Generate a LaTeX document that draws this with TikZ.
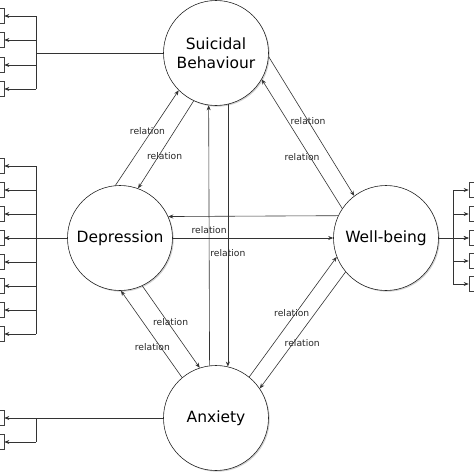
\documentclass[tikz,border=0pt]{standalone}
\usepackage{fontspec}
\setmainfont{DejaVu Sans}
\usetikzlibrary{arrows.meta, shadows}

\begin{document}
\begin{tikzpicture}[x=1pt,y=-1pt,->,>={Stealth[length=5pt,width=4pt]},line width=0.6pt,draw=black!80,
  state/.style={circle, draw=black!85, fill=white, minimum size=105pt, inner sep=0pt, align=center,
    font=\fontsize{15.5}{18.5}\selectfont,
    drop shadow={shadow xshift=1.2pt, shadow yshift=-1.2pt, fill=black!30, opacity=0.6}},
  rel/.style={font=\fontsize{9.2}{11}\selectfont, text=black!85},
  leaf/.style={-, draw=black!75, minimum width=12pt, minimum height=15pt, inner sep=0pt}]

  \useasboundingbox (0,0) rectangle (474,474);

  \node[state] (sui) at (216,53) {Suicidal\\Behaviour};
  \node[state] (dep) at (120,238) {Depression};
  \node[state] (wel) at (386,238) {Well-being};
  \node[state] (anx) at (216,418) {Anxiety};

  % relations between the four factors
  \draw (dep.95) -- node[rel, pos=0.57, xshift=-4pt]{relation} (sui.225);
  \draw (sui.245) -- node[rel, pos=0.63, xshift=6pt]{relation} (dep.70);
  \draw (anx.97.6) -- node[rel, pos=0.52]{relation} (sui.262.4);
  \draw (sui.283) -- node[rel, pos=0.567]{relation} (anx.77);
  \draw (wel.155.5) -- (dep.24.5);
  \draw (dep.east) -- (wel.west);
  \draw (sui.356) -- node[rel, pos=0.46]{relation} (wel.127);
  \draw (wel.146) -- node[rel, pos=0.4, xshift=-8pt]{relation} (sui.330);
  \draw (anx.130.4) -- node[rel, pos=0.354, xshift=-8pt]{relation} (dep.271);
  \draw (dep.295) -- node[rel, pos=0.44, xshift=3pt]{relation} (anx.108.4);
  \draw (anx.51.2) -- node[rel, pos=0.532, xshift=-4pt]{relation} (wel.201);
  \draw (wel.220.5) -- node[rel, pos=0.61, xshift=9pt]{relation} (anx.34);

  % items of suicidal behaviour
  \coordinate (bs) at (36,53);
  \foreach \i/\y in {1/16,2/40,3/65,4/89} {
    \node[leaf] (s\i) at (-2,\y) {};
    \draw (s\i.east -| bs) -- (s\i.east);
  }
  \draw[-] (sui.west) -- (bs);
  \draw[-] (s1.east -| bs) -- (s4.east -| bs);

  % items of depression
  \coordinate (bd) at (36,238);
  \foreach \i/\y in {1/166,2/190,3/214,4/238,5/262,6/286,7/310,8/334} {
    \node[leaf] (d\i) at (-2,\y) {};
    \draw (d\i.east -| bd) -- (d\i.east);
  }
  \draw (dep.west) -- (d4.east);
  \draw[-] (d1.east -| bd) -- (d8.east -| bd);

  % items of anxiety
  \coordinate (ba) at (36,418);
  \foreach \i/\y in {1/418,2/442} {
    \node[leaf] (a\i) at (-2,\y) {};
  }
  \draw (anx.west) -- (a1.east);
  \draw[-] (a1.east -| ba) -- (a2.east -| ba);
  \draw (a2.east -| ba) -- (a2.east);

  % items of well-being
  \coordinate (bw) at (453,238);
  \foreach \i/\y in {1/190,2/214,3/238,4/261,5/284} {
    \node[leaf] (w\i) at (475,\y) {};
    \draw (w\i.west -| bw) -- (w\i.west);
  }
  \draw (wel.east) -- (w3.west);
  \draw[-] (w1.west -| bw) -- (w5.west -| bw);

\end{tikzpicture}
\end{document}
